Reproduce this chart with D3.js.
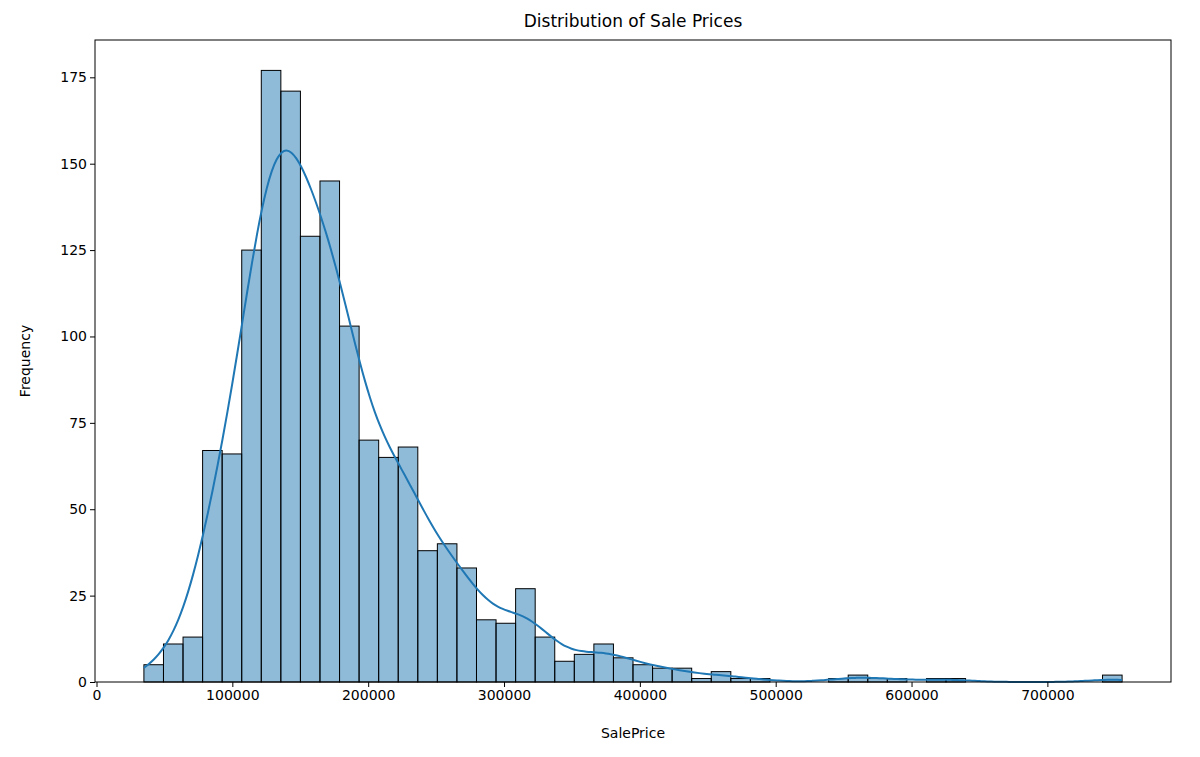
<!DOCTYPE html>
<html><head><meta charset="utf-8">
<script src="https://cdn.jsdelivr.net/npm/d3@7"></script>
<style>body{margin:0;background:#fff;font-family:"DejaVu Sans",sans-serif}</style>
</head><body><svg id="c" width="1200" height="757"></svg>
<script>
// histogram of SalePrice, 50 bins from 34900 to 755000
const binStart = 34900, binEnd = 755000;
const counts = [5,11,13,67,66,125,177,171,129,145,103,70,65,68,38,40,33,18,17,27,
  13,6,8,11,7,5,4,4,1,3,1,1,0,0,0,1,2,1,1,0,1,1,0,0,0,0,0,0,0,2];
const xTicks = [0,100000,200000,300000,400000,500000,600000,700000];
const yTicks = [0,25,50,75,100,125,150,175];

const svg = d3.select('#c');
const L = 95, R = 1171, T = 40, B = 682;
const x = d3.scaleLinear().domain([-1105, 791005]).range([L, R]);
const y = d3.scaleLinear().domain([0, 185.8]).range([B, T]);
const bw = (binEnd - binStart) / counts.length;
const bins = counts.map((c, i) => ({ x0: binStart + i * bw, x1: binStart + (i + 1) * bw, c }));

svg.append('g').selectAll('rect').data(bins).enter().append('rect')
  .attr('x', d => x(d.x0)).attr('width', d => x(d.x1) - x(d.x0))
  .attr('y', d => y(d.c)).attr('height', d => B - y(d.c))
  .attr('fill', 'rgba(31,119,180,0.5)').attr('stroke', '#000').attr('stroke-width', 1);

// gaussian kde from binned data, scaled to counts
const n = d3.sum(counts);
const centers = bins.map(b => (b.x0 + b.x1) / 2);
const mean = d3.sum(bins, (b, i) => b.c * centers[i]) / n;
const sd = Math.sqrt(d3.sum(bins, (b, i) => b.c * (centers[i] - mean) ** 2) / n);
const h = sd * Math.pow(n, -0.2) * 0.95;
const kde = v => d3.sum(bins, (b, i) => b.c * Math.exp(-0.5 * ((v - centers[i]) / h) ** 2)) / (h * Math.sqrt(2 * Math.PI));
const pts = d3.range(200).map(i => { const v = binStart + i * (binEnd - binStart) / 199; return [v, kde(v) * bw]; });
svg.append('path').datum(pts)
  .attr('d', d3.line().x(d => x(d[0])).y(d => y(d[1])).curve(d3.curveBasis))
  .attr('fill', 'none').attr('stroke', '#1f77b4').attr('stroke-width', 2);

const xa = svg.append('g').attr('transform', `translate(0,${B})`)
  .call(d3.axisBottom(x).tickValues(xTicks).tickFormat(d3.format('d')).tickSize(5).tickPadding(3));
const ya = svg.append('g').attr('transform', `translate(${L},0)`)
  .call(d3.axisLeft(y).tickValues(yTicks).tickSize(5).tickPadding(3));
[xa, ya].forEach(a => {
  a.select('.domain').remove();
  a.selectAll('text').attr('font-size', 14).attr('font-family', 'DejaVu Sans').attr('fill', '#000');
  a.selectAll('line').attr('stroke', '#000');
});
svg.append('rect').attr('x', L).attr('y', T).attr('width', R - L).attr('height', B - T)
  .attr('fill', 'none').attr('stroke', '#000').attr('stroke-width', 1);

svg.append('text').attr('x', (L + R) / 2).attr('y', 27).attr('text-anchor', 'middle')
  .attr('font-size', 17).text('Distribution of Sale Prices');
svg.append('text').attr('x', (L + R) / 2).attr('y', 738).attr('text-anchor', 'middle')
  .attr('font-size', 14).text('SalePrice');
svg.append('text').attr('transform', `translate(30,${(T + B) / 2}) rotate(-90)`).attr('text-anchor', 'middle')
  .attr('font-size', 14).text('Frequency');
</script></body></html>
